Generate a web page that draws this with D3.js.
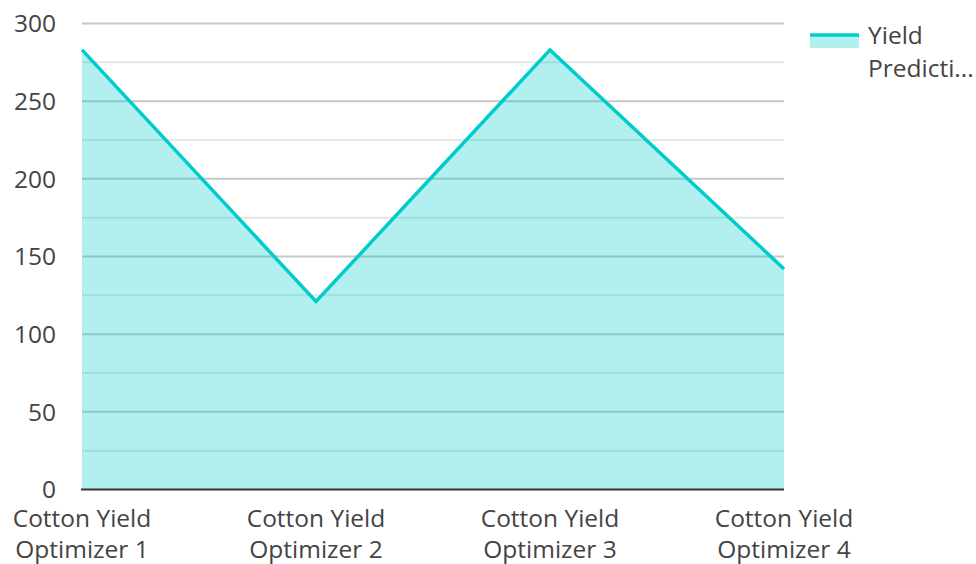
<!DOCTYPE html>
<html>
<head>
<meta charset="utf-8">
<script src="https://cdn.jsdelivr.net/npm/d3@7"></script>
<style>
  body { margin: 0; background: #fff; }
  text { font-family: "Open Sans", "Noto Sans", sans-serif; fill: #444; }
</style>
</head>
<body>
<div id="chart"></div>
<script>
// data
var categories = ['Cotton Yield Optimizer 1', 'Cotton Yield Optimizer 2', 'Cotton Yield Optimizer 3', 'Cotton Yield Optimizer 4'];
var yieldValues = [283, 121, 283, 142];
var yTicks = [0, 50, 100, 150, 200, 250, 300];
var minorTicks = [25, 75, 125, 175, 225, 275];
var seriesName = 'Yield Prediction';

var width = 976, height = 564;
var plotLeft = 82, plotRight = 784, plotTop = 23.5, plotBottom = 489.5;
var teal = '#00cccc';
var fontSize = '24.5px';

var svg = d3.select('#chart').append('svg')
  .attr('width', width)
  .attr('height', height);

var x = d3.scalePoint().domain(categories).range([plotLeft, plotRight]);
var y = d3.scaleLinear().domain([0, 300]).range([plotBottom, plotTop]);

// grid
svg.append('g').selectAll('line').data(minorTicks).enter().append('line')
  .attr('x1', plotLeft).attr('x2', plotRight)
  .attr('y1', function(d){ return y(d); }).attr('y2', function(d){ return y(d); })
  .attr('stroke', '#e6e6e6').attr('stroke-width', 2);
svg.append('g').selectAll('line').data(yTicks.slice(1)).enter().append('line')
  .attr('x1', plotLeft).attr('x2', plotRight)
  .attr('y1', function(d){ return y(d); }).attr('y2', function(d){ return y(d); })
  .attr('stroke', '#c8c8c8').attr('stroke-width', 2);

// area + line
var area = d3.area()
  .x(function(d, i){ return x(categories[i]); })
  .y0(y(0))
  .y1(function(d){ return y(d); });
var line = d3.line()
  .x(function(d, i){ return x(categories[i]); })
  .y(function(d){ return y(d); });

svg.append('path').datum(yieldValues)
  .attr('d', area)
  .attr('fill', teal)
  .attr('fill-opacity', 0.3);
svg.append('path').datum(yieldValues)
  .attr('d', line)
  .attr('fill', 'none')
  .attr('stroke', teal)
  .attr('stroke-width', 3.5);

// x axis line
svg.append('line')
  .attr('x1', plotLeft - 1).attr('x2', plotRight)
  .attr('y1', plotBottom).attr('y2', plotBottom)
  .attr('stroke', '#333').attr('stroke-width', 2);

// y labels
svg.append('g').selectAll('text').data(yTicks).enter().append('text')
  .attr('x', 56)
  .attr('y', function(d){ return y(d); })
  .attr('dy', '0.36em')
  .attr('text-anchor', 'end')
  .style('font-size', fontSize)
  .text(function(d){ return d; });

// x labels, two lines each
var xl = svg.append('g').selectAll('text').data(categories).enter().append('text')
  .attr('text-anchor', 'middle')
  .style('font-size', fontSize);
xl.append('tspan')
  .attr('x', function(d){ return x(d); })
  .attr('y', 527)
  .text(function(d){ return d.split(' ').slice(0, 2).join(' '); });
xl.append('tspan')
  .attr('x', function(d){ return x(d); })
  .attr('y', 558)
  .text(function(d){ return d.split(' ').slice(2).join(' '); });

// legend
var lg = svg.append('g');
lg.append('rect')
  .attr('x', 810).attr('y', 36).attr('width', 49).attr('height', 12)
  .attr('fill', teal).attr('fill-opacity', 0.3);
lg.append('line')
  .attr('x1', 810).attr('x2', 859).attr('y1', 35).attr('y2', 35)
  .attr('stroke', teal).attr('stroke-width', 3.5);
lg.append('text').attr('x', 868).attr('y', 44).style('font-size', fontSize).text('Yield');
lg.append('text').attr('x', 868).attr('y', 77).style('font-size', fontSize).text('Predicti...');
</script>
</body>
</html>
